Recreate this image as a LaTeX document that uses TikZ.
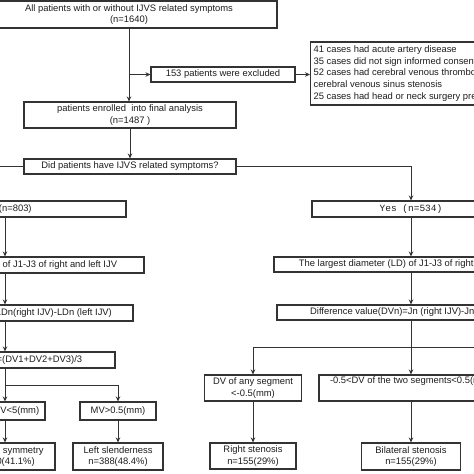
\documentclass[tikz,border=0pt]{standalone}
\usepackage{fontspec}
\setmainfont{Liberation Sans}
\newfontfamily\monof{Liberation Mono}
\usetikzlibrary{arrows.meta}
\definecolor{lc}{HTML}{333333}
\definecolor{tc}{HTML}{1E1E1E}
\begin{document}
\begin{tikzpicture}[x=1pt,y=-1pt,
  bx/.style={draw=lc, line width=1.1pt, inner sep=1pt, align=center, text=tc,
             font=\fontsize{9.4}{11.5}\selectfont},
  arr/.style={draw=lc, line width=1pt, -{Stealth[length=5pt,width=4.5pt]}}]
\useasboundingbox (0,0) rectangle (474,474);
\clip (0,0) rectangle (474,474);
\fill[white] (0,0) rectangle (474,474);
% top part
\node[bx, minimum width=296pt, minimum height=27pt] (b1) at (129,14.5) {All patients with or without IJVS related symptoms\\(n=1640)};
\node[bx, minimum width=144pt, minimum height=15pt] (b2) at (223,74.5) {153 patients were excluded};
\node[bx, anchor=west, minimum height=63pt, align=left, inner xsep=3pt,
      font=\fontsize{9.4}{11.8}\selectfont] (b4) at (310,73.5)
  {41 cases had acute artery disease\\35 cases did not sign informed consent\\52 cases had cerebral venous thrombosis or\\cerebral venous sinus stenosis\\25 cases had head or neck surgery previously};
\node[bx, minimum width=212pt, minimum height=26pt] (b3) at (130,115) {patients enrolled\ \ into final analysis\\(n=1487 )};
\node[bx, minimum width=212pt, minimum height=15pt] (b5) at (130,166.5) {Did patients have IJVS related symptoms?};
% left column
\node[bx, minimum width=236pt, minimum height=16pt] (no) at (8,209) {No (n=803)};
\node[bx, minimum width=278pt, minimum height=16pt] (l1) at (5,265) {The largest diameter (LD) of J1-J3 of right and left IJV};
\node[bx, minimum width=256pt, minimum height=16pt] (l2) at (5,313) {Difference value(DVn)=LDn(right IJV)-LDn (left IJV)};
\node[bx, minimum width=220pt, minimum height=16pt] (l3) at (5,360) {Mean value(MV)=(DV1+DV2+DV3)/3};
\node[bx, minimum width=80pt, minimum height=18pt] (mvlt) at (5,411) {-0.5<MV<5(mm)};
\node[bx, minimum width=76pt, minimum height=18pt] (mvgt) at (118,411) {MV>0.5(mm)};
\node[bx, minimum width=100pt, minimum height=27pt] (sym) at (5,456.5) {Bilateral symmetry\\n=330(41.1\%)};
\node[bx, minimum width=90pt, minimum height=27pt] (lsl) at (118,456.5) {Left slenderness\\n=388(48.4\%)};
% right column
\node[bx, minimum width=198pt, minimum height=16pt, font=\monof\fontsize{9.5}{11.5}\selectfont] (yes) at (411,209) {Yes (n=534)};
\node[bx, minimum width=274pt, minimum height=15pt] (r1) at (411,264.5) {The largest diameter (LD) of J1-J3 of right and left IJV};
\node[bx, minimum width=268pt, minimum height=15pt] (r2) at (411,312.5) {Difference value(DVn)=Jn (right IJV)-Jn (left IJV)};
\node[bx, minimum width=97pt, minimum height=26pt] (dva) at (253,388) {DV of any segment\\<-0.5(mm)};
\node[bx, minimum width=184pt, minimum height=26pt] (dvt) at (411,388) {-0.5<DV of the two segments<0.5(mm)\\\strut};
\node[bx, minimum width=86pt, minimum height=26pt] (rst) at (253,456) {Right stenosis\\n=155(29\%)};
\node[bx, minimum width=99pt, minimum height=27pt] (bst) at (411,456.5) {Bilateral stenosis\\n=155(29\%)};
% connectors
\coordinate (colL) at (5,0);
\coordinate (noin) at (-60,0);
\coordinate (brL) at (5,385);
\coordinate (brR) at (520,347);
\draw[arr] (b1.south) -- (b1.south |- b3.north);
\draw[arr] (b1.south |- b2.west) -- (b2.west);
\draw[arr] (b2.east) -- (b2.east -| b4.west);
\draw[arr] (b3.south) -- (b5.north);
\draw[arr] (b5.east) -| (yes.north);
\draw[arr] (b5.west) -| (noin |- no.north);
\draw[arr] (no.south -| colL) -- (l1.north -| colL);
\draw[arr] (l1.south -| colL) -- (l2.north -| colL);
\draw[arr] (l2.south -| colL) -- (l3.north -| colL);
\draw[arr] (l3.south -| colL) -- (mvlt.north -| colL);
\draw[arr] (brL) -| (mvgt.north);
\draw[arr] (mvlt.south -| colL) -- (sym.north -| colL);
\draw[arr] (mvgt.south) -- (lsl.north);
\draw[arr] (yes.south) -- (r1.north);
\draw[arr] (r1.south) -- (r2.north);
\draw[arr] (r2.south) -- (dvt.north);
\draw[arr] (brR) -| (dva.north);
\draw[arr] (dva.south) -- (rst.north);
\draw[arr] (dvt.south) -- (bst.north);
\end{tikzpicture}
\end{document}
